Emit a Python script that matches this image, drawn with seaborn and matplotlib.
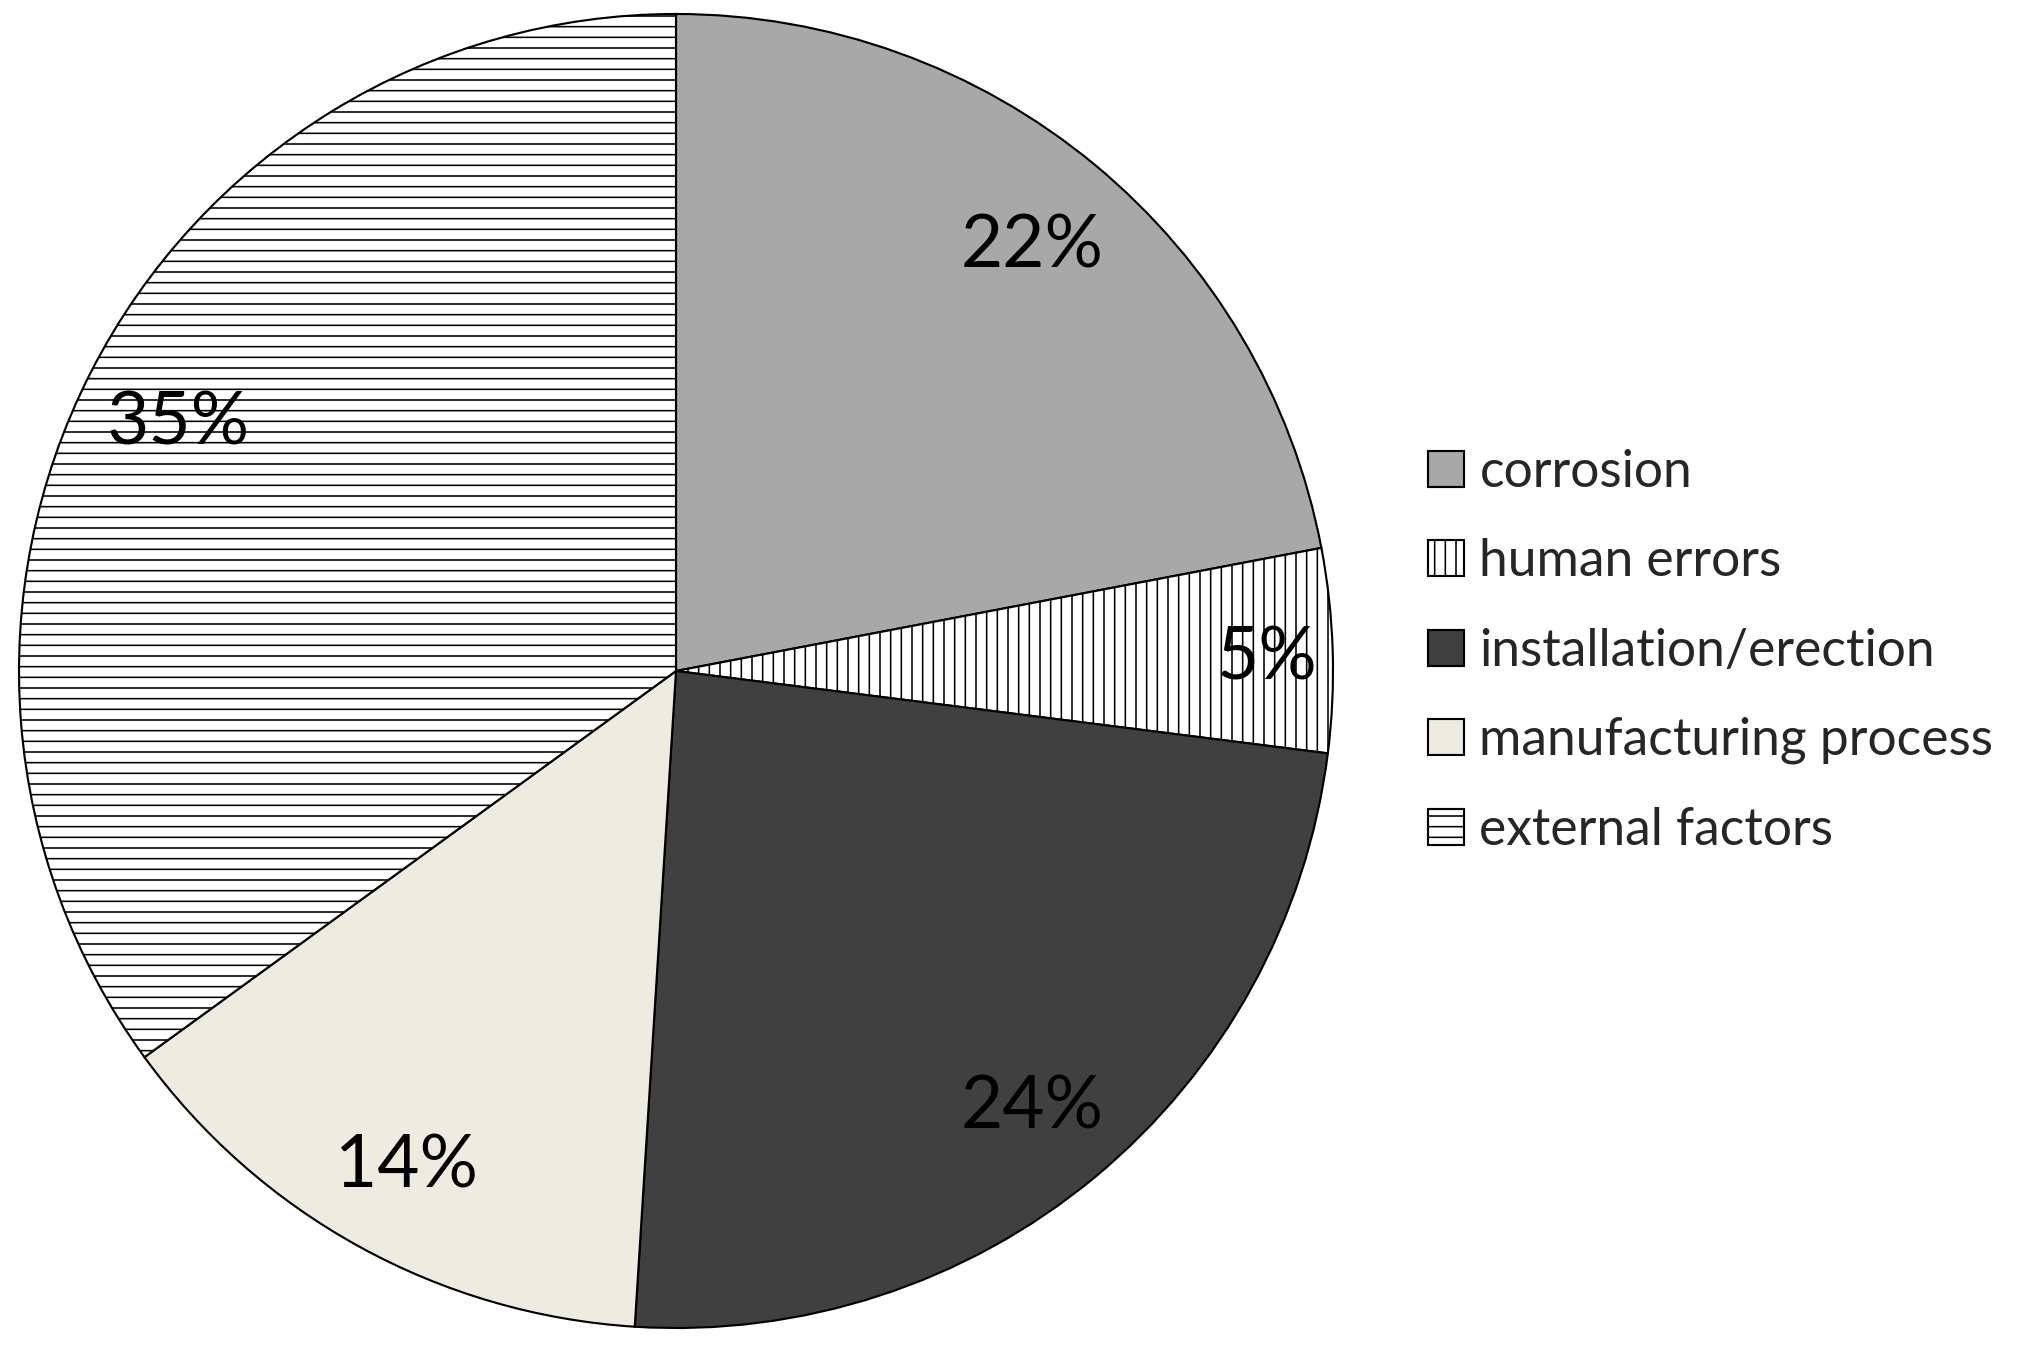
import matplotlib
matplotlib.use("Agg")
import matplotlib.pyplot as plt
import seaborn as sns

causes = ["corrosion", "human errors", "installation/erection",
          "manufacturing process", "external factors"]
shares = [22, 5, 24, 14, 35]
fills = ["#a8a8a8", "#ffffff", "#404040", "#eeece1", "#ffffff"]
hatches = [None, "||", None, None, "--"]

sns.set_theme(style="white")
plt.rcParams["font.family"] = ["Lato", "DejaVu Sans"]
plt.rcParams["hatch.linewidth"] = 0.9

# dpi 128 so the hatch lines come out ~10 px apart like the original
DPI = 128
W, H = 2019, 1346
fig = plt.figure(figsize=(W / DPI, H / DPI), dpi=DPI)
fig.patch.set_facecolor("white")

# pie centred at (676, 671) px, radius 657 px
cx, cy, r = 676, 671, 657
ax = fig.add_axes([(cx - r) / W, (H - cy - r) / H, 2 * r / W, 2 * r / H])

wedges, texts, pcts = ax.pie(
    shares, colors=fills, startangle=90, counterclock=False,
    autopct="%1.0f%%", pctdistance=0.85, radius=1,
    wedgeprops=dict(edgecolor="black", linewidth=1.2),
    textprops=dict(fontsize=41, color="black"))

for w, h in zip(wedges, hatches):
    if h:
        w.set_hatch(h)

for t in pcts:
    t.set_va("center_baseline")

# push the small slice label a bit outward
x, y = pcts[1].get_position()
pcts[1].set_position((x * 0.9 / 0.85, y * 0.9 / 0.85))

ax.set_xlim(-1, 1)
ax.set_ylim(-1, 1)
ax.set_aspect("equal")
ax.axis("off")

fig.legend(wedges, causes, loc="center left", bbox_to_anchor=(0.697, 0.516),
           frameon=False, fontsize=29, handlelength=0.7, handleheight=0.7,
           labelspacing=0.82, handletextpad=0.3, borderaxespad=0)

fig.savefig("out.png", dpi=DPI, facecolor="white")
